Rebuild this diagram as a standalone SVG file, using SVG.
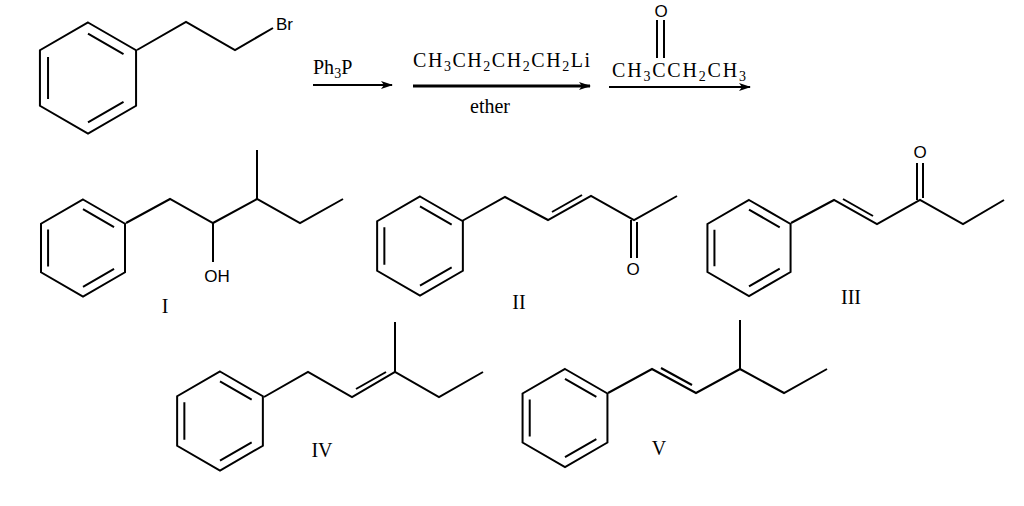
<svg xmlns="http://www.w3.org/2000/svg" xmlns:xlink="http://www.w3.org/1999/xlink" width="1024" height="506" viewBox="0 0 1024 506">
<style>
line,polyline,path{stroke:#000;stroke-width:2;fill:none;stroke-linejoin:miter}
.r path{vector-effect:non-scaling-stroke}
.s{font-family:"Liberation Serif",serif;font-size:20px;fill:#000}
.a{font-family:"Liberation Sans",sans-serif;font-size:17px;fill:#000}
.b{font-size:14px}
</style>
<defs>
<g id="ring" class="r">
<path d="M0,-1 L0.866,-0.5 L0.866,0.5 L0,1 L-0.866,0.5 L-0.866,-0.5 Z"/>
<path d="M0.0,-0.80 L0.64,-0.43 M0.64,0.43 L0.0,0.80 M-0.72,0.38 L-0.72,-0.38"/>
</g>
<marker id="ah" markerWidth="12" markerHeight="8" refX="11" refY="4" orient="auto" markerUnits="userSpaceOnUse"><path d="M0,0 L12,4 L0,8 L3,4 Z" style="fill:#000;stroke:none"/></marker>
</defs>
<g id="start">
<use xlink:href="#ring" transform="translate(88,78) scale(55.5)"/>
<polyline points="137,50 186,22 235,50 273,28"/>
<text class="a" x="276" y="30">Br</text>
</g>
<g id="connectors">
<line x1="313" y1="85" x2="392" y2="85" marker-end="url(#ah)"/>
<line x1="413" y1="86" x2="590" y2="86" style="stroke-width:3" marker-end="url(#ah)"/>
<line x1="609" y1="87" x2="750" y2="87" marker-end="url(#ah)"/>
</g>
<g id="reagents">
<text class="s" x="313" y="74">Ph<tspan class="b" dy="4">3</tspan><tspan dy="-4">P</tspan></text>
<text class="s" x="413" y="67" textLength="177" lengthAdjust="spacing">CH<tspan class="b" dy="4">3</tspan><tspan dy="-4">CH</tspan><tspan class="b" dy="4">2</tspan><tspan dy="-4">CH</tspan><tspan class="b" dy="4">2</tspan><tspan dy="-4">CH</tspan><tspan class="b" dy="4">2</tspan><tspan dy="-4">Li</tspan></text>
<text class="s" x="490" y="113" text-anchor="middle">ether</text>
<text class="s" x="612" y="77" textLength="134" lengthAdjust="spacing">CH<tspan class="b" dy="4">3</tspan><tspan dy="-4">CCH</tspan><tspan class="b" dy="4">2</tspan><tspan dy="-4">CH</tspan><tspan class="b" dy="4">3</tspan></text>
<line x1="657" y1="20" x2="657" y2="58"/><line x1="664" y1="20" x2="664" y2="58"/>
<text class="a" x="661" y="17" text-anchor="middle">O</text>
</g>
<g id="I">
<use xlink:href="#ring" transform="translate(83,248) scale(48.5)"/>
<polyline points="126,223 170,199 213,223 257,199 300,223 343,199"/>
<line x1="257" y1="199" x2="257" y2="150"/>
<line x1="213" y1="223" x2="213" y2="262"/>
<text class="a" x="217" y="282" text-anchor="middle">OH</text>
<text class="s" x="165" y="313" text-anchor="middle">I</text>
</g>
<g id="II">
<use xlink:href="#ring" transform="translate(420,246) scale(49.5)"/>
<polyline points="462,221 505,197 548,220 591,196 634,220 677,196"/>
<line x1="552" y1="212" x2="582" y2="195"/>
<line x1="631" y1="220" x2="631" y2="258"/><line x1="637" y1="222" x2="637" y2="258"/>
<text class="a" x="633" y="275" text-anchor="middle">O</text>
<text class="s" x="519" y="309" text-anchor="middle">II</text>
</g>
<g id="III">
<use xlink:href="#ring" transform="translate(749,248) scale(48)"/>
<polyline points="791,223 834,200 877,224 920,200 963,224 1004,200"/>
<line x1="843" y1="199" x2="873" y2="216"/>
<line x1="917" y1="200" x2="917" y2="163"/><line x1="923" y1="198" x2="923" y2="163"/>
<text class="a" x="920" y="158" text-anchor="middle">O</text>
<text class="s" x="851" y="304" text-anchor="middle">III</text>
</g>
<g id="IV">
<use xlink:href="#ring" transform="translate(220,421) scale(49.5)"/>
<polyline points="264,397 308,372 352,397 395,372 439,397 483,372"/>
<line x1="395" y1="372" x2="395" y2="322"/>
<line x1="356" y1="389" x2="386" y2="372"/>
<text class="s" x="322" y="457" text-anchor="middle">IV</text>
</g>
<g id="V">
<use xlink:href="#ring" transform="translate(565,418) scale(49)"/>
<polyline points="608,393 652,369 696,393 740,369 784,393 827,369"/>
<line x1="740" y1="369" x2="740" y2="320"/>
<line x1="661" y1="368" x2="692" y2="385"/>
<text class="s" x="659" y="455" text-anchor="middle">V</text>
</g>
</svg>
